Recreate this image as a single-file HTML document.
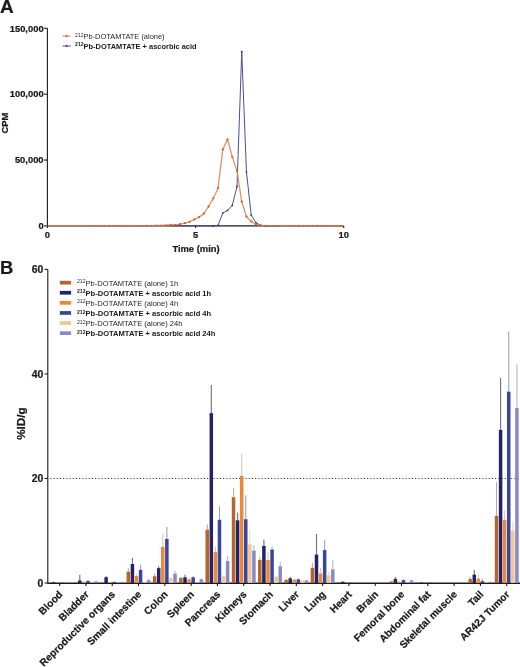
<!DOCTYPE html>
<html><head><meta charset="utf-8"><title>Biodistribution</title>
<style>
html,body{margin:0;padding:0;background:#fff;}
body{width:520px;height:667px;overflow:hidden;}
svg{display:block;font-family:'Liberation Sans', Arial, sans-serif;}
text[font-weight=bold]{stroke:#1a1a1a;stroke-width:0.22px;}
text.lg{stroke:none;}
</style></head>
<body>
<svg width="520" height="667" viewBox="0 0 520 667">
<rect width="520" height="667" fill="#fff"/>
<text x="0.1" y="12.8" font-size="19" font-weight="bold" fill="#1a1a1a">A</text>
<path d="M47.4,28.3 V225.9 H343.7" fill="none" stroke="#1a1a1a" stroke-width="1.1"/>
<line x1="44.0" y1="28.30" x2="47.4" y2="28.30" stroke="#1a1a1a" stroke-width="1.1"/>
<text x="43.6" y="31.60" font-size="9.4" font-weight="bold" text-anchor="end" fill="#1a1a1a">150,000</text>
<line x1="44.0" y1="94.17" x2="47.4" y2="94.17" stroke="#1a1a1a" stroke-width="1.1"/>
<text x="43.6" y="97.47" font-size="9.4" font-weight="bold" text-anchor="end" fill="#1a1a1a">100,000</text>
<line x1="44.0" y1="160.03" x2="47.4" y2="160.03" stroke="#1a1a1a" stroke-width="1.1"/>
<text x="43.6" y="163.33" font-size="9.4" font-weight="bold" text-anchor="end" fill="#1a1a1a">50,000</text>
<line x1="44.0" y1="225.90" x2="47.4" y2="225.90" stroke="#1a1a1a" stroke-width="1.1"/>
<text x="43.6" y="229.20" font-size="9.4" font-weight="bold" text-anchor="end" fill="#1a1a1a">0</text>
<line x1="47.40" y1="225.9" x2="47.40" y2="228.1" stroke="#1a1a1a" stroke-width="1.1"/>
<text x="47.40" y="238.2" font-size="9.4" font-weight="bold" text-anchor="middle" fill="#1a1a1a">0</text>
<line x1="195.55" y1="225.9" x2="195.55" y2="228.1" stroke="#1a1a1a" stroke-width="1.1"/>
<text x="195.55" y="238.2" font-size="9.4" font-weight="bold" text-anchor="middle" fill="#1a1a1a">5</text>
<line x1="343.70" y1="225.9" x2="343.70" y2="228.1" stroke="#1a1a1a" stroke-width="1.1"/>
<text x="343.70" y="238.2" font-size="9.4" font-weight="bold" text-anchor="middle" fill="#1a1a1a">10</text>
<text x="196" y="252" font-size="9.4" font-weight="bold" text-anchor="middle" fill="#1a1a1a">Time (min)</text>
<text transform="translate(8.0,123.2) rotate(-90)" font-size="9.4" font-weight="bold" text-anchor="middle" fill="#1a1a1a">CPM</text>
<polyline points="170.64,225.90 175.38,225.90 180.12,225.90 184.86,225.90 189.60,225.90 194.34,225.90 199.08,225.90 203.82,225.90 208.56,225.90 213.30,225.90 218.04,225.40 222.78,213.10 227.52,210.40 232.26,205.40 237.00,186.50 241.74,51.70 246.48,172.10 251.22,215.20 255.96,222.70 260.70,225.30 265.44,225.90 270.18,225.90 274.92,225.90 279.66,225.90" fill="none" stroke="#4a4f97" stroke-width="1.0" stroke-linejoin="round"/>
<circle cx="213.30" cy="225.90" r="0.9" fill="#2e3180"/>
<circle cx="218.04" cy="225.40" r="0.9" fill="#2e3180"/>
<circle cx="222.78" cy="213.10" r="0.9" fill="#2e3180"/>
<circle cx="227.52" cy="210.40" r="0.9" fill="#2e3180"/>
<circle cx="232.26" cy="205.40" r="0.9" fill="#2e3180"/>
<circle cx="237.00" cy="186.50" r="0.9" fill="#2e3180"/>
<circle cx="241.74" cy="51.70" r="0.9" fill="#2e3180"/>
<circle cx="246.48" cy="172.10" r="0.9" fill="#2e3180"/>
<circle cx="251.22" cy="215.20" r="0.9" fill="#2e3180"/>
<circle cx="255.96" cy="222.70" r="0.9" fill="#2e3180"/>
<circle cx="260.70" cy="225.30" r="0.9" fill="#2e3180"/>
<circle cx="265.44" cy="225.90" r="0.9" fill="#2e3180"/>
<polyline points="47.40,225.60 52.14,225.60 56.88,225.60 61.62,225.60 66.36,225.60 71.10,225.60 75.84,225.60 80.58,225.60 85.32,225.60 90.06,225.60 94.80,225.60 99.54,225.60 104.28,225.60 109.02,225.60 113.76,225.60 118.50,225.60 123.24,225.60 127.98,225.60 132.72,225.60 137.46,225.60 142.20,225.60 146.94,225.60 151.68,225.60 156.42,225.44 161.16,225.28 165.90,225.12 170.64,224.96 175.38,224.80 180.12,224.20 184.86,223.20 189.60,221.80 194.34,219.40 199.08,217.10 203.82,213.70 208.56,206.50 213.30,198.30 218.04,188.20 222.78,149.40 227.52,139.40 232.26,156.80 237.00,170.90 241.74,201.60 246.48,216.70 251.22,221.50 255.96,224.40 260.70,225.60 265.44,225.60 270.18,225.60 274.92,225.60 279.66,225.60 284.40,225.60 289.14,225.60 293.88,225.60 298.62,225.60 303.36,225.60 308.10,225.60 312.84,225.60 317.58,225.60 322.32,225.60 327.06,225.60 331.80,225.60 336.54,225.60 341.28,225.60 343.70,225.60" fill="none" stroke="#d9804f" stroke-width="1.3" stroke-opacity="0.85" stroke-linejoin="round"/>
<circle cx="85.32" cy="225.60" r="0.85" fill="#c06a45" fill-opacity="0.8"/>
<circle cx="90.06" cy="225.60" r="0.85" fill="#c06a45" fill-opacity="0.8"/>
<circle cx="94.80" cy="225.60" r="0.85" fill="#c06a45" fill-opacity="0.8"/>
<circle cx="99.54" cy="225.60" r="0.85" fill="#c06a45" fill-opacity="0.8"/>
<circle cx="104.28" cy="225.60" r="0.85" fill="#c06a45" fill-opacity="0.8"/>
<circle cx="109.02" cy="225.60" r="0.85" fill="#c06a45" fill-opacity="0.8"/>
<circle cx="113.76" cy="225.60" r="0.85" fill="#c06a45" fill-opacity="0.8"/>
<circle cx="118.50" cy="225.60" r="0.85" fill="#c06a45" fill-opacity="0.8"/>
<circle cx="123.24" cy="225.60" r="0.85" fill="#c06a45" fill-opacity="0.8"/>
<circle cx="127.98" cy="225.60" r="0.85" fill="#c06a45" fill-opacity="0.8"/>
<circle cx="132.72" cy="225.60" r="0.85" fill="#c06a45" fill-opacity="0.8"/>
<circle cx="137.46" cy="225.60" r="0.85" fill="#c06a45" fill-opacity="0.8"/>
<circle cx="142.20" cy="225.60" r="0.85" fill="#c06a45" fill-opacity="0.8"/>
<circle cx="146.94" cy="225.60" r="0.85" fill="#c06a45" fill-opacity="0.8"/>
<circle cx="151.68" cy="225.60" r="0.85" fill="#c06a45" fill-opacity="0.8"/>
<circle cx="156.42" cy="225.44" r="0.85" fill="#c06a45" fill-opacity="0.8"/>
<circle cx="161.16" cy="225.28" r="0.85" fill="#c06a45" fill-opacity="0.8"/>
<circle cx="165.90" cy="225.12" r="0.85" fill="#c06a45" fill-opacity="0.8"/>
<circle cx="170.64" cy="224.96" r="1.15" fill="#c9652f"/>
<circle cx="175.38" cy="224.80" r="1.15" fill="#c9652f"/>
<circle cx="180.12" cy="224.20" r="1.15" fill="#c9652f"/>
<circle cx="184.86" cy="223.20" r="1.15" fill="#c9652f"/>
<circle cx="189.60" cy="221.80" r="1.15" fill="#c9652f"/>
<circle cx="194.34" cy="219.40" r="1.15" fill="#c9652f"/>
<circle cx="199.08" cy="217.10" r="1.15" fill="#c9652f"/>
<circle cx="203.82" cy="213.70" r="1.15" fill="#c9652f"/>
<circle cx="208.56" cy="206.50" r="1.15" fill="#c9652f"/>
<circle cx="213.30" cy="198.30" r="1.15" fill="#c9652f"/>
<circle cx="218.04" cy="188.20" r="1.15" fill="#c9652f"/>
<circle cx="222.78" cy="149.40" r="1.15" fill="#c9652f"/>
<circle cx="227.52" cy="139.40" r="1.15" fill="#c9652f"/>
<circle cx="232.26" cy="156.80" r="1.15" fill="#c9652f"/>
<circle cx="237.00" cy="170.90" r="1.15" fill="#c9652f"/>
<circle cx="241.74" cy="201.60" r="1.15" fill="#c9652f"/>
<circle cx="246.48" cy="216.70" r="1.15" fill="#c9652f"/>
<circle cx="251.22" cy="221.50" r="1.15" fill="#c9652f"/>
<circle cx="255.96" cy="224.40" r="1.15" fill="#c9652f"/>
<circle cx="260.70" cy="225.60" r="1.15" fill="#c9652f"/>
<circle cx="265.44" cy="225.60" r="0.85" fill="#c06a45" fill-opacity="0.8"/>
<circle cx="270.18" cy="225.60" r="0.85" fill="#c06a45" fill-opacity="0.8"/>
<circle cx="274.92" cy="225.60" r="0.85" fill="#c06a45" fill-opacity="0.8"/>
<circle cx="279.66" cy="225.60" r="0.85" fill="#c06a45" fill-opacity="0.8"/>
<circle cx="284.40" cy="225.60" r="0.85" fill="#c06a45" fill-opacity="0.8"/>
<circle cx="289.14" cy="225.60" r="0.85" fill="#c06a45" fill-opacity="0.8"/>
<circle cx="293.88" cy="225.60" r="0.85" fill="#c06a45" fill-opacity="0.8"/>
<circle cx="298.62" cy="225.60" r="0.85" fill="#c06a45" fill-opacity="0.8"/>
<circle cx="303.36" cy="225.60" r="0.85" fill="#c06a45" fill-opacity="0.8"/>
<circle cx="308.10" cy="225.60" r="0.85" fill="#c06a45" fill-opacity="0.8"/>
<circle cx="312.84" cy="225.60" r="0.85" fill="#c06a45" fill-opacity="0.8"/>
<circle cx="317.58" cy="225.60" r="0.85" fill="#c06a45" fill-opacity="0.8"/>
<circle cx="322.32" cy="225.60" r="0.85" fill="#c06a45" fill-opacity="0.8"/>
<circle cx="327.06" cy="225.60" r="0.85" fill="#c06a45" fill-opacity="0.8"/>
<circle cx="331.80" cy="225.60" r="0.85" fill="#c06a45" fill-opacity="0.8"/>
<circle cx="336.54" cy="225.60" r="0.85" fill="#c06a45" fill-opacity="0.8"/>
<circle cx="341.28" cy="225.60" r="0.85" fill="#c06a45" fill-opacity="0.8"/>
<line x1="62.6" y1="36.1" x2="70.7" y2="36.1" stroke="#d9804f" stroke-width="1.0"/>
<circle cx="66.6" cy="36.1" r="1.1" fill="#c9652f"/>
<line x1="62.6" y1="46.0" x2="70.7" y2="46.0" stroke="#4a4f97" stroke-width="1.0"/>
<circle cx="66.6" cy="46.0" r="1.0" fill="#2e3180"/>
<text class="lg" x="75.1" y="39.2" font-size="7.45" fill="#262626"><tspan font-size="5.07" dy="-2.6">212</tspan><tspan dy="2.6">Pb-DOTAMTATE (alone)</tspan></text>
<text class="lg" x="75.1" y="48.9" font-size="7.45" font-weight="bold" fill="#1a1a1a"><tspan font-size="5.07" dy="-2.6">212</tspan><tspan dy="2.6">Pb-DOTAMTATE + ascorbic acid</tspan></text>
<text x="0.0" y="274.3" font-size="18.4" font-weight="bold" fill="#1a1a1a">B</text>
<line x1="47.8" y1="269.4" x2="47.8" y2="583.0" stroke="#1a1a1a" stroke-width="1.1"/>
<line x1="47.25" y1="583.25" x2="520" y2="583.25" stroke="#1a1a1a" stroke-width="1.5"/>
<line x1="44.599999999999994" y1="269.40" x2="47.8" y2="269.40" stroke="#1a1a1a" stroke-width="1.1"/>
<text x="43.2" y="273.10" font-size="10.4" font-weight="bold" text-anchor="end" fill="#1a1a1a">60</text>
<line x1="44.599999999999994" y1="373.93" x2="47.8" y2="373.93" stroke="#1a1a1a" stroke-width="1.1"/>
<text x="43.2" y="377.63" font-size="10.4" font-weight="bold" text-anchor="end" fill="#1a1a1a">40</text>
<line x1="44.599999999999994" y1="478.47" x2="47.8" y2="478.47" stroke="#1a1a1a" stroke-width="1.1"/>
<text x="43.2" y="482.17" font-size="10.4" font-weight="bold" text-anchor="end" fill="#1a1a1a">20</text>
<line x1="44.599999999999994" y1="583.00" x2="47.8" y2="583.00" stroke="#1a1a1a" stroke-width="1.1"/>
<text x="43.2" y="586.70" font-size="10.4" font-weight="bold" text-anchor="end" fill="#1a1a1a">0</text>
<text transform="translate(25.1,423.6) rotate(-90)" font-size="11.7" font-weight="bold" text-anchor="middle" fill="#1a1a1a">%ID/g</text>
<line x1="50.3" y1="478.47" x2="520" y2="478.47" stroke="#333" stroke-width="1" stroke-dasharray="1.1 2.1"/>
<line x1="59.64" y1="583.0" x2="59.64" y2="586.0" stroke="#1a1a1a" stroke-width="1.1"/>
<line x1="49.44" y1="582.48" x2="49.44" y2="582.74" stroke="#bfaa9c" stroke-width="1.1"/>
<rect x="47.69" y="582.74" width="3.5" height="0.26" fill="#b4642c"/>
<line x1="53.52" y1="581.69" x2="53.52" y2="582.22" stroke="#6e6e86" stroke-width="1.1"/>
<rect x="51.77" y="582.22" width="3.5" height="0.78" fill="#25226a"/>
<line x1="57.60" y1="582.74" x2="57.60" y2="582.84" stroke="#d9c8b8" stroke-width="1.1"/>
<rect x="55.85" y="582.84" width="3.5" height="0.16" fill="#e98a3a"/>
<line x1="61.68" y1="582.48" x2="61.68" y2="582.74" stroke="#9ca0c6" stroke-width="1.1"/>
<rect x="59.93" y="582.74" width="3.5" height="0.26" fill="#3a469c"/>
<line x1="65.76" y1="582.74" x2="65.76" y2="582.84" stroke="#e8dac6" stroke-width="1.1"/>
<rect x="64.01" y="582.84" width="3.5" height="0.16" fill="#f0c98e"/>
<line x1="69.84" y1="582.74" x2="69.84" y2="582.84" stroke="#b2b2d6" stroke-width="1.1"/>
<rect x="68.09" y="582.84" width="3.5" height="0.16" fill="#8b88c6"/>
<text transform="translate(63.24,595.0) rotate(-45)" font-size="10.2" font-weight="bold" text-anchor="end" fill="#1a1a1a">Blood</text>
<line x1="85.94" y1="583.0" x2="85.94" y2="586.0" stroke="#1a1a1a" stroke-width="1.1"/>
<line x1="75.74" y1="582.22" x2="75.74" y2="582.48" stroke="#bfaa9c" stroke-width="1.1"/>
<rect x="73.99" y="582.48" width="3.5" height="0.52" fill="#b4642c"/>
<line x1="79.82" y1="574.64" x2="79.82" y2="580.39" stroke="#6e6e86" stroke-width="1.1"/>
<rect x="78.07" y="580.39" width="3.5" height="2.61" fill="#25226a"/>
<line x1="83.90" y1="580.65" x2="83.90" y2="582.22" stroke="#d9c8b8" stroke-width="1.1"/>
<rect x="82.15" y="582.22" width="3.5" height="0.78" fill="#e98a3a"/>
<line x1="87.98" y1="579.86" x2="87.98" y2="580.91" stroke="#9ca0c6" stroke-width="1.1"/>
<rect x="86.23" y="580.91" width="3.5" height="2.09" fill="#3a469c"/>
<line x1="92.06" y1="582.48" x2="92.06" y2="582.74" stroke="#e8dac6" stroke-width="1.1"/>
<rect x="90.31" y="582.74" width="3.5" height="0.26" fill="#f0c98e"/>
<line x1="96.14" y1="580.39" x2="96.14" y2="581.43" stroke="#b2b2d6" stroke-width="1.1"/>
<rect x="94.39" y="581.43" width="3.5" height="1.57" fill="#8b88c6"/>
<text transform="translate(89.54,595.0) rotate(-45)" font-size="10.2" font-weight="bold" text-anchor="end" fill="#1a1a1a">Bladder</text>
<line x1="112.24" y1="583.0" x2="112.24" y2="586.0" stroke="#1a1a1a" stroke-width="1.1"/>
<line x1="102.04" y1="581.95" x2="102.04" y2="582.48" stroke="#bfaa9c" stroke-width="1.1"/>
<rect x="100.29" y="582.48" width="3.5" height="0.52" fill="#b4642c"/>
<line x1="106.12" y1="575.94" x2="106.12" y2="577.25" stroke="#6e6e86" stroke-width="1.1"/>
<rect x="104.37" y="577.25" width="3.5" height="5.75" fill="#25226a"/>
<line x1="110.20" y1="581.95" x2="110.20" y2="582.48" stroke="#d9c8b8" stroke-width="1.1"/>
<rect x="108.45" y="582.48" width="3.5" height="0.52" fill="#e98a3a"/>
<line x1="114.28" y1="581.43" x2="114.28" y2="581.95" stroke="#9ca0c6" stroke-width="1.1"/>
<rect x="112.53" y="581.95" width="3.5" height="1.05" fill="#3a469c"/>
<line x1="118.36" y1="582.48" x2="118.36" y2="582.74" stroke="#e8dac6" stroke-width="1.1"/>
<rect x="116.61" y="582.74" width="3.5" height="0.26" fill="#f0c98e"/>
<line x1="122.44" y1="581.43" x2="122.44" y2="581.95" stroke="#b2b2d6" stroke-width="1.1"/>
<rect x="120.69" y="581.95" width="3.5" height="1.05" fill="#8b88c6"/>
<text transform="translate(115.84,595.0) rotate(-45)" font-size="10.2" font-weight="bold" text-anchor="end" fill="#1a1a1a">Reproductive organs</text>
<line x1="138.53" y1="583.0" x2="138.53" y2="586.0" stroke="#1a1a1a" stroke-width="1.1"/>
<line x1="128.33" y1="568.37" x2="128.33" y2="571.71" stroke="#bfaa9c" stroke-width="1.1"/>
<rect x="126.58" y="571.71" width="3.5" height="11.29" fill="#b4642c"/>
<line x1="132.41" y1="557.91" x2="132.41" y2="564.03" stroke="#6e6e86" stroke-width="1.1"/>
<rect x="130.66" y="564.03" width="3.5" height="18.97" fill="#25226a"/>
<line x1="136.49" y1="573.70" x2="136.49" y2="576.00" stroke="#d9c8b8" stroke-width="1.1"/>
<rect x="134.74" y="576.00" width="3.5" height="7.00" fill="#e98a3a"/>
<line x1="140.57" y1="564.81" x2="140.57" y2="569.83" stroke="#9ca0c6" stroke-width="1.1"/>
<rect x="138.82" y="569.83" width="3.5" height="13.17" fill="#3a469c"/>
<line x1="144.65" y1="581.95" x2="144.65" y2="582.48" stroke="#e8dac6" stroke-width="1.1"/>
<rect x="142.90" y="582.48" width="3.5" height="0.52" fill="#f0c98e"/>
<line x1="148.73" y1="579.08" x2="148.73" y2="580.18" stroke="#b2b2d6" stroke-width="1.1"/>
<rect x="146.98" y="580.18" width="3.5" height="2.82" fill="#8b88c6"/>
<text transform="translate(142.13,595.0) rotate(-45)" font-size="10.2" font-weight="bold" text-anchor="end" fill="#1a1a1a">Small intestine</text>
<line x1="164.83" y1="583.0" x2="164.83" y2="586.0" stroke="#1a1a1a" stroke-width="1.1"/>
<line x1="154.63" y1="573.59" x2="154.63" y2="576.21" stroke="#bfaa9c" stroke-width="1.1"/>
<rect x="152.88" y="576.21" width="3.5" height="6.79" fill="#b4642c"/>
<line x1="158.71" y1="566.27" x2="158.71" y2="568.10" stroke="#6e6e86" stroke-width="1.1"/>
<rect x="156.96" y="568.10" width="3.5" height="14.90" fill="#25226a"/>
<line x1="162.79" y1="533.61" x2="162.79" y2="546.83" stroke="#d9c8b8" stroke-width="1.1"/>
<rect x="161.04" y="546.83" width="3.5" height="36.17" fill="#e98a3a"/>
<line x1="166.87" y1="527.07" x2="166.87" y2="538.94" stroke="#9ca0c6" stroke-width="1.1"/>
<rect x="165.12" y="538.94" width="3.5" height="44.06" fill="#3a469c"/>
<line x1="170.95" y1="577.25" x2="170.95" y2="578.19" stroke="#e8dac6" stroke-width="1.1"/>
<rect x="169.20" y="578.19" width="3.5" height="4.81" fill="#f0c98e"/>
<line x1="175.03" y1="570.98" x2="175.03" y2="573.59" stroke="#b2b2d6" stroke-width="1.1"/>
<rect x="173.28" y="573.59" width="3.5" height="9.41" fill="#8b88c6"/>
<text transform="translate(168.43,595.0) rotate(-45)" font-size="10.2" font-weight="bold" text-anchor="end" fill="#1a1a1a">Colon</text>
<line x1="191.13" y1="583.0" x2="191.13" y2="586.0" stroke="#1a1a1a" stroke-width="1.1"/>
<line x1="180.93" y1="576.73" x2="180.93" y2="578.03" stroke="#bfaa9c" stroke-width="1.1"/>
<rect x="179.18" y="578.03" width="3.5" height="4.97" fill="#b4642c"/>
<line x1="185.01" y1="574.64" x2="185.01" y2="577.25" stroke="#6e6e86" stroke-width="1.1"/>
<rect x="183.26" y="577.25" width="3.5" height="5.75" fill="#25226a"/>
<line x1="189.09" y1="578.30" x2="189.09" y2="579.34" stroke="#d9c8b8" stroke-width="1.1"/>
<rect x="187.34" y="579.34" width="3.5" height="3.66" fill="#e98a3a"/>
<line x1="193.17" y1="576.21" x2="193.17" y2="577.25" stroke="#9ca0c6" stroke-width="1.1"/>
<rect x="191.42" y="577.25" width="3.5" height="5.75" fill="#3a469c"/>
<line x1="197.25" y1="582.22" x2="197.25" y2="582.48" stroke="#e8dac6" stroke-width="1.1"/>
<rect x="195.50" y="582.48" width="3.5" height="0.52" fill="#f0c98e"/>
<line x1="201.33" y1="578.30" x2="201.33" y2="579.34" stroke="#b2b2d6" stroke-width="1.1"/>
<rect x="199.58" y="579.34" width="3.5" height="3.66" fill="#8b88c6"/>
<text transform="translate(194.73,595.0) rotate(-45)" font-size="10.2" font-weight="bold" text-anchor="end" fill="#1a1a1a">Spleen</text>
<line x1="217.43" y1="583.0" x2="217.43" y2="586.0" stroke="#1a1a1a" stroke-width="1.1"/>
<line x1="207.23" y1="524.46" x2="207.23" y2="529.69" stroke="#bfaa9c" stroke-width="1.1"/>
<rect x="205.48" y="529.69" width="3.5" height="53.31" fill="#b4642c"/>
<line x1="211.31" y1="384.91" x2="211.31" y2="413.13" stroke="#6e6e86" stroke-width="1.1"/>
<rect x="209.56" y="413.13" width="3.5" height="169.87" fill="#25226a"/>
<line x1="215.39" y1="546.94" x2="215.39" y2="552.16" stroke="#d9c8b8" stroke-width="1.1"/>
<rect x="213.64" y="552.16" width="3.5" height="30.84" fill="#e98a3a"/>
<line x1="219.47" y1="506.17" x2="219.47" y2="519.76" stroke="#9ca0c6" stroke-width="1.1"/>
<rect x="217.72" y="519.76" width="3.5" height="63.24" fill="#3a469c"/>
<line x1="223.55" y1="575.16" x2="223.55" y2="576.21" stroke="#e8dac6" stroke-width="1.1"/>
<rect x="221.80" y="576.21" width="3.5" height="6.79" fill="#f0c98e"/>
<line x1="227.63" y1="555.82" x2="227.63" y2="561.05" stroke="#b2b2d6" stroke-width="1.1"/>
<rect x="225.88" y="561.05" width="3.5" height="21.95" fill="#8b88c6"/>
<text transform="translate(221.03,595.0) rotate(-45)" font-size="10.2" font-weight="bold" text-anchor="end" fill="#1a1a1a">Pancreas</text>
<line x1="243.73" y1="583.0" x2="243.73" y2="586.0" stroke="#1a1a1a" stroke-width="1.1"/>
<line x1="233.53" y1="488.40" x2="233.53" y2="497.28" stroke="#bfaa9c" stroke-width="1.1"/>
<rect x="231.78" y="497.28" width="3.5" height="85.72" fill="#b4642c"/>
<line x1="237.61" y1="512.44" x2="237.61" y2="520.28" stroke="#6e6e86" stroke-width="1.1"/>
<rect x="235.86" y="520.28" width="3.5" height="62.72" fill="#25226a"/>
<line x1="241.69" y1="453.90" x2="241.69" y2="475.85" stroke="#d9c8b8" stroke-width="1.1"/>
<rect x="239.94" y="475.85" width="3.5" height="107.15" fill="#e98a3a"/>
<line x1="245.77" y1="495.19" x2="245.77" y2="519.23" stroke="#9ca0c6" stroke-width="1.1"/>
<rect x="244.02" y="519.23" width="3.5" height="63.77" fill="#3a469c"/>
<line x1="249.85" y1="530.21" x2="249.85" y2="544.32" stroke="#e8dac6" stroke-width="1.1"/>
<rect x="248.10" y="544.32" width="3.5" height="38.68" fill="#f0c98e"/>
<line x1="253.93" y1="545.37" x2="253.93" y2="550.59" stroke="#b2b2d6" stroke-width="1.1"/>
<rect x="252.18" y="550.59" width="3.5" height="32.41" fill="#8b88c6"/>
<text transform="translate(247.33,595.0) rotate(-45)" font-size="10.2" font-weight="bold" text-anchor="end" fill="#1a1a1a">Kidneys</text>
<line x1="270.02" y1="583.0" x2="270.02" y2="586.0" stroke="#1a1a1a" stroke-width="1.1"/>
<line x1="259.82" y1="556.87" x2="259.82" y2="560.00" stroke="#bfaa9c" stroke-width="1.1"/>
<rect x="258.07" y="560.00" width="3.5" height="23.00" fill="#b4642c"/>
<line x1="263.90" y1="539.62" x2="263.90" y2="545.89" stroke="#6e6e86" stroke-width="1.1"/>
<rect x="262.15" y="545.89" width="3.5" height="37.11" fill="#25226a"/>
<line x1="267.98" y1="551.64" x2="267.98" y2="560.00" stroke="#d9c8b8" stroke-width="1.1"/>
<rect x="266.23" y="560.00" width="3.5" height="23.00" fill="#e98a3a"/>
<line x1="272.06" y1="546.41" x2="272.06" y2="549.55" stroke="#9ca0c6" stroke-width="1.1"/>
<rect x="270.31" y="549.55" width="3.5" height="33.45" fill="#3a469c"/>
<line x1="276.14" y1="575.68" x2="276.14" y2="576.73" stroke="#e8dac6" stroke-width="1.1"/>
<rect x="274.39" y="576.73" width="3.5" height="6.27" fill="#f0c98e"/>
<line x1="280.22" y1="562.09" x2="280.22" y2="566.27" stroke="#b2b2d6" stroke-width="1.1"/>
<rect x="278.47" y="566.27" width="3.5" height="16.73" fill="#8b88c6"/>
<text transform="translate(273.62,595.0) rotate(-45)" font-size="10.2" font-weight="bold" text-anchor="end" fill="#1a1a1a">Stomach</text>
<line x1="296.32" y1="583.0" x2="296.32" y2="586.0" stroke="#1a1a1a" stroke-width="1.1"/>
<line x1="286.12" y1="578.82" x2="286.12" y2="579.86" stroke="#bfaa9c" stroke-width="1.1"/>
<rect x="284.37" y="579.86" width="3.5" height="3.14" fill="#b4642c"/>
<line x1="290.20" y1="576.73" x2="290.20" y2="578.30" stroke="#6e6e86" stroke-width="1.1"/>
<rect x="288.45" y="578.30" width="3.5" height="4.70" fill="#25226a"/>
<line x1="294.28" y1="578.82" x2="294.28" y2="579.60" stroke="#d9c8b8" stroke-width="1.1"/>
<rect x="292.53" y="579.60" width="3.5" height="3.40" fill="#e98a3a"/>
<line x1="298.36" y1="578.30" x2="298.36" y2="579.34" stroke="#9ca0c6" stroke-width="1.1"/>
<rect x="296.61" y="579.34" width="3.5" height="3.66" fill="#3a469c"/>
<line x1="302.44" y1="579.86" x2="302.44" y2="580.39" stroke="#e8dac6" stroke-width="1.1"/>
<rect x="300.69" y="580.39" width="3.5" height="2.61" fill="#f0c98e"/>
<line x1="306.52" y1="579.86" x2="306.52" y2="580.39" stroke="#b2b2d6" stroke-width="1.1"/>
<rect x="304.77" y="580.39" width="3.5" height="2.61" fill="#8b88c6"/>
<text transform="translate(299.92,595.0) rotate(-45)" font-size="10.2" font-weight="bold" text-anchor="end" fill="#1a1a1a">Liver</text>
<line x1="322.62" y1="583.0" x2="322.62" y2="586.0" stroke="#1a1a1a" stroke-width="1.1"/>
<line x1="312.42" y1="563.14" x2="312.42" y2="567.84" stroke="#bfaa9c" stroke-width="1.1"/>
<rect x="310.67" y="567.84" width="3.5" height="15.16" fill="#b4642c"/>
<line x1="316.50" y1="533.87" x2="316.50" y2="554.51" stroke="#6e6e86" stroke-width="1.1"/>
<rect x="314.75" y="554.51" width="3.5" height="28.49" fill="#25226a"/>
<line x1="320.58" y1="567.84" x2="320.58" y2="573.59" stroke="#d9c8b8" stroke-width="1.1"/>
<rect x="318.83" y="573.59" width="3.5" height="9.41" fill="#e98a3a"/>
<line x1="324.66" y1="540.14" x2="324.66" y2="550.07" stroke="#9ca0c6" stroke-width="1.1"/>
<rect x="322.91" y="550.07" width="3.5" height="32.93" fill="#3a469c"/>
<line x1="328.74" y1="572.02" x2="328.74" y2="575.42" stroke="#e8dac6" stroke-width="1.1"/>
<rect x="326.99" y="575.42" width="3.5" height="7.58" fill="#f0c98e"/>
<line x1="332.82" y1="560.53" x2="332.82" y2="569.41" stroke="#b2b2d6" stroke-width="1.1"/>
<rect x="331.07" y="569.41" width="3.5" height="13.59" fill="#8b88c6"/>
<text transform="translate(326.22,595.0) rotate(-45)" font-size="10.2" font-weight="bold" text-anchor="end" fill="#1a1a1a">Lung</text>
<line x1="348.92" y1="583.0" x2="348.92" y2="586.0" stroke="#1a1a1a" stroke-width="1.1"/>
<line x1="338.72" y1="582.48" x2="338.72" y2="582.74" stroke="#bfaa9c" stroke-width="1.1"/>
<rect x="336.97" y="582.74" width="3.5" height="0.26" fill="#b4642c"/>
<line x1="342.80" y1="581.43" x2="342.80" y2="581.69" stroke="#6e6e86" stroke-width="1.1"/>
<rect x="341.05" y="581.69" width="3.5" height="1.31" fill="#25226a"/>
<line x1="346.88" y1="582.74" x2="346.88" y2="582.84" stroke="#d9c8b8" stroke-width="1.1"/>
<rect x="345.13" y="582.84" width="3.5" height="0.16" fill="#e98a3a"/>
<line x1="350.96" y1="582.48" x2="350.96" y2="582.74" stroke="#9ca0c6" stroke-width="1.1"/>
<rect x="349.21" y="582.74" width="3.5" height="0.26" fill="#3a469c"/>
<line x1="355.04" y1="582.74" x2="355.04" y2="582.84" stroke="#e8dac6" stroke-width="1.1"/>
<rect x="353.29" y="582.84" width="3.5" height="0.16" fill="#f0c98e"/>
<line x1="359.12" y1="582.74" x2="359.12" y2="582.84" stroke="#b2b2d6" stroke-width="1.1"/>
<rect x="357.37" y="582.84" width="3.5" height="0.16" fill="#8b88c6"/>
<text transform="translate(352.52,595.0) rotate(-45)" font-size="10.2" font-weight="bold" text-anchor="end" fill="#1a1a1a">Heart</text>
<line x1="375.22" y1="583.0" x2="375.22" y2="586.0" stroke="#1a1a1a" stroke-width="1.1"/>
<text transform="translate(378.82,595.0) rotate(-45)" font-size="10.2" font-weight="bold" text-anchor="end" fill="#1a1a1a">Brain</text>
<line x1="401.51" y1="583.0" x2="401.51" y2="586.0" stroke="#1a1a1a" stroke-width="1.1"/>
<line x1="391.31" y1="580.91" x2="391.31" y2="581.43" stroke="#bfaa9c" stroke-width="1.1"/>
<rect x="389.56" y="581.43" width="3.5" height="1.57" fill="#b4642c"/>
<line x1="395.39" y1="576.99" x2="395.39" y2="578.82" stroke="#6e6e86" stroke-width="1.1"/>
<rect x="393.64" y="578.82" width="3.5" height="4.18" fill="#25226a"/>
<line x1="399.47" y1="581.17" x2="399.47" y2="581.69" stroke="#d9c8b8" stroke-width="1.1"/>
<rect x="397.72" y="581.69" width="3.5" height="1.31" fill="#e98a3a"/>
<line x1="403.55" y1="579.34" x2="403.55" y2="580.13" stroke="#9ca0c6" stroke-width="1.1"/>
<rect x="401.80" y="580.13" width="3.5" height="2.87" fill="#3a469c"/>
<line x1="407.63" y1="582.48" x2="407.63" y2="582.74" stroke="#e8dac6" stroke-width="1.1"/>
<rect x="405.88" y="582.74" width="3.5" height="0.26" fill="#f0c98e"/>
<line x1="411.71" y1="579.86" x2="411.71" y2="580.39" stroke="#b2b2d6" stroke-width="1.1"/>
<rect x="409.96" y="580.39" width="3.5" height="2.61" fill="#8b88c6"/>
<text transform="translate(405.11,595.0) rotate(-45)" font-size="10.2" font-weight="bold" text-anchor="end" fill="#1a1a1a">Femoral bone</text>
<line x1="427.81" y1="583.0" x2="427.81" y2="586.0" stroke="#1a1a1a" stroke-width="1.1"/>
<line x1="417.61" y1="582.58" x2="417.61" y2="582.74" stroke="#bfaa9c" stroke-width="1.1"/>
<rect x="415.86" y="582.74" width="3.5" height="0.26" fill="#b4642c"/>
<line x1="421.69" y1="582.37" x2="421.69" y2="582.58" stroke="#6e6e86" stroke-width="1.1"/>
<rect x="419.94" y="582.58" width="3.5" height="0.42" fill="#25226a"/>
<line x1="425.77" y1="582.74" x2="425.77" y2="582.84" stroke="#d9c8b8" stroke-width="1.1"/>
<rect x="424.02" y="582.84" width="3.5" height="0.16" fill="#e98a3a"/>
<line x1="429.85" y1="582.58" x2="429.85" y2="582.74" stroke="#9ca0c6" stroke-width="1.1"/>
<rect x="428.10" y="582.74" width="3.5" height="0.26" fill="#3a469c"/>
<line x1="433.93" y1="582.74" x2="433.93" y2="582.84" stroke="#e8dac6" stroke-width="1.1"/>
<rect x="432.18" y="582.84" width="3.5" height="0.16" fill="#f0c98e"/>
<line x1="438.01" y1="582.74" x2="438.01" y2="582.84" stroke="#b2b2d6" stroke-width="1.1"/>
<rect x="436.26" y="582.84" width="3.5" height="0.16" fill="#8b88c6"/>
<text transform="translate(431.41,595.0) rotate(-45)" font-size="10.2" font-weight="bold" text-anchor="end" fill="#1a1a1a">Abdominal fat</text>
<line x1="454.11" y1="583.0" x2="454.11" y2="586.0" stroke="#1a1a1a" stroke-width="1.1"/>
<text transform="translate(457.71,595.0) rotate(-45)" font-size="10.2" font-weight="bold" text-anchor="end" fill="#1a1a1a">Skeletal muscle</text>
<line x1="480.41" y1="583.0" x2="480.41" y2="586.0" stroke="#1a1a1a" stroke-width="1.1"/>
<line x1="470.21" y1="576.73" x2="470.21" y2="579.08" stroke="#bfaa9c" stroke-width="1.1"/>
<rect x="468.46" y="579.08" width="3.5" height="3.92" fill="#b4642c"/>
<line x1="474.29" y1="569.93" x2="474.29" y2="574.64" stroke="#6e6e86" stroke-width="1.1"/>
<rect x="472.54" y="574.64" width="3.5" height="8.36" fill="#25226a"/>
<line x1="478.37" y1="574.11" x2="478.37" y2="578.56" stroke="#d9c8b8" stroke-width="1.1"/>
<rect x="476.62" y="578.56" width="3.5" height="4.44" fill="#e98a3a"/>
<line x1="482.45" y1="578.82" x2="482.45" y2="581.17" stroke="#9ca0c6" stroke-width="1.1"/>
<rect x="480.70" y="581.17" width="3.5" height="1.83" fill="#3a469c"/>
<line x1="486.53" y1="582.22" x2="486.53" y2="582.48" stroke="#e8dac6" stroke-width="1.1"/>
<rect x="484.78" y="582.48" width="3.5" height="0.52" fill="#f0c98e"/>
<line x1="490.61" y1="581.43" x2="490.61" y2="581.95" stroke="#b2b2d6" stroke-width="1.1"/>
<rect x="488.86" y="581.95" width="3.5" height="1.05" fill="#8b88c6"/>
<text transform="translate(484.01,595.0) rotate(-45)" font-size="10.2" font-weight="bold" text-anchor="end" fill="#1a1a1a">Tail</text>
<line x1="506.71" y1="583.0" x2="506.71" y2="586.0" stroke="#1a1a1a" stroke-width="1.1"/>
<line x1="496.51" y1="482.13" x2="496.51" y2="515.84" stroke="#bfaa9c" stroke-width="1.1"/>
<rect x="494.76" y="515.84" width="3.5" height="67.16" fill="#b4642c"/>
<line x1="500.59" y1="378.11" x2="500.59" y2="429.86" stroke="#6e6e86" stroke-width="1.1"/>
<rect x="498.84" y="429.86" width="3.5" height="153.14" fill="#25226a"/>
<line x1="504.67" y1="510.35" x2="504.67" y2="519.76" stroke="#d9c8b8" stroke-width="1.1"/>
<rect x="502.92" y="519.76" width="3.5" height="63.24" fill="#e98a3a"/>
<line x1="508.75" y1="331.60" x2="508.75" y2="391.70" stroke="#9ca0c6" stroke-width="1.1"/>
<rect x="507.00" y="391.70" width="3.5" height="191.30" fill="#3a469c"/>
<line x1="512.83" y1="521.33" x2="512.83" y2="530.73" stroke="#e8dac6" stroke-width="1.1"/>
<rect x="511.08" y="530.73" width="3.5" height="52.27" fill="#f0c98e"/>
<line x1="516.91" y1="364.53" x2="516.91" y2="407.91" stroke="#b2b2d6" stroke-width="1.1"/>
<rect x="515.16" y="407.91" width="3.5" height="175.09" fill="#8b88c6"/>
<text transform="translate(510.31,595.0) rotate(-45)" font-size="10.2" font-weight="bold" text-anchor="end" fill="#1a1a1a">AR42J Tumor</text>
<rect x="59.8" y="280.80" width="11.3" height="3.7" fill="#b4642c"/>
<text class="lg" x="77.0" y="285.8" font-size="7.55" fill="#262626"><tspan font-size="5.13" dy="-2.6">212</tspan><tspan dy="2.6">Pb-DOTAMTATE (alone) 1h</tspan></text>
<rect x="59.8" y="290.90" width="11.3" height="3.7" fill="#25226a"/>
<text class="lg" x="77.0" y="295.9" font-size="7.55" font-weight="bold" fill="#1a1a1a"><tspan font-size="5.13" dy="-2.6">212</tspan><tspan dy="2.6">Pb-DOTAMTATE + ascorbic acid 1h</tspan></text>
<rect x="59.8" y="301.00" width="11.3" height="3.7" fill="#e98a3a"/>
<text class="lg" x="77.0" y="306.0" font-size="7.55" fill="#262626"><tspan font-size="5.13" dy="-2.6">212</tspan><tspan dy="2.6">Pb-DOTAMTATE (alone) 4h</tspan></text>
<rect x="59.8" y="311.10" width="11.3" height="3.7" fill="#3a469c"/>
<text class="lg" x="77.0" y="316.1" font-size="7.55" font-weight="bold" fill="#1a1a1a"><tspan font-size="5.13" dy="-2.6">212</tspan><tspan dy="2.6">Pb-DOTAMTATE + ascorbic acid 4h</tspan></text>
<rect x="59.8" y="321.20" width="11.3" height="3.7" fill="#f0c98e"/>
<text class="lg" x="77.0" y="326.2" font-size="7.55" fill="#262626"><tspan font-size="5.13" dy="-2.6">212</tspan><tspan dy="2.6">Pb-DOTAMTATE (alone) 24h</tspan></text>
<rect x="59.8" y="331.30" width="11.3" height="3.7" fill="#8b88c6"/>
<text class="lg" x="77.0" y="336.3" font-size="7.55" font-weight="bold" fill="#1a1a1a"><tspan font-size="5.13" dy="-2.6">212</tspan><tspan dy="2.6">Pb-DOTAMTATE + ascorbic acid 24h</tspan></text>
</svg>
</body></html>
